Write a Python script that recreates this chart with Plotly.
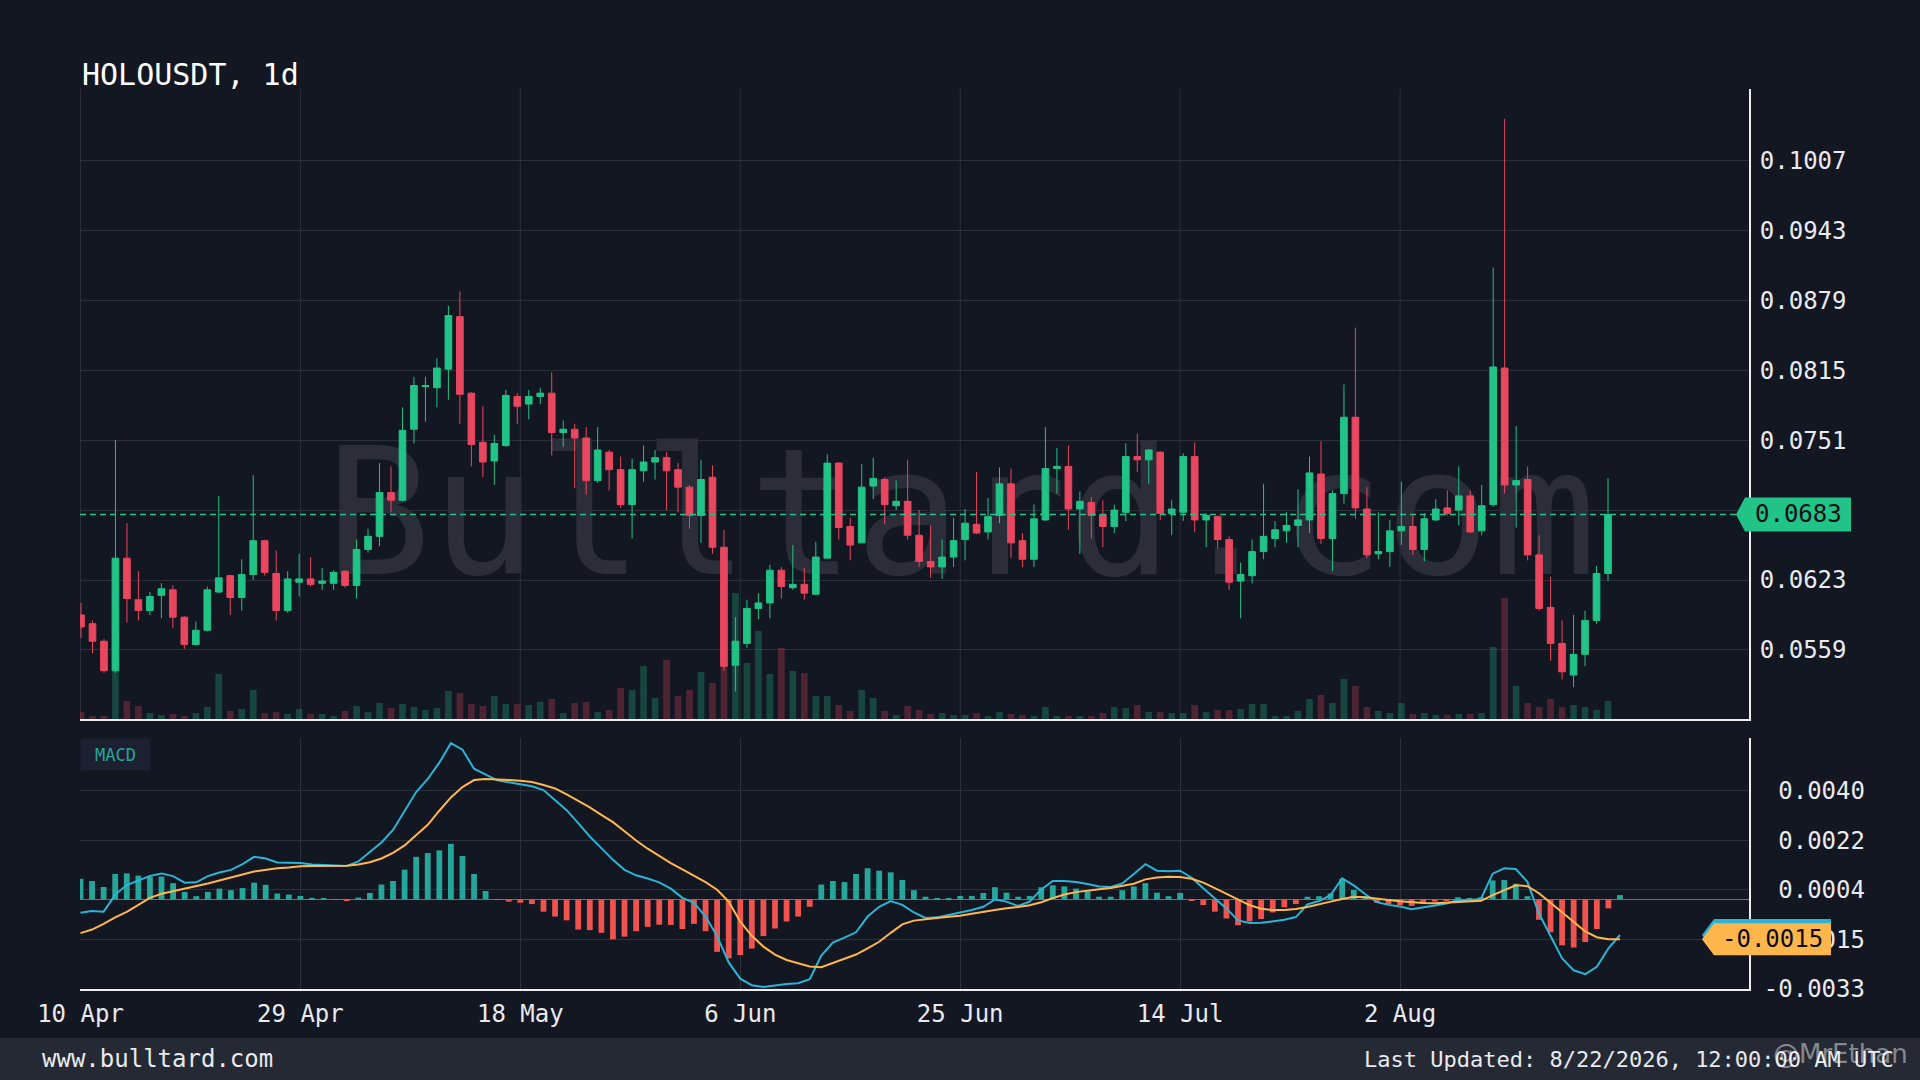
import pandas as pd
import plotly.graph_objects as go

# HOLOUSDT daily candles, 10 Apr -> 21 Aug 2026
dates = pd.date_range("2026-04-10", periods=134, freq="D")

opens = [
    0.0591, 0.0583, 0.0567, 0.0540, 0.0643, 0.0605, 0.0595, 0.0609, 0.0614, 0.0589,
    0.0564, 0.0577, 0.0612, 0.0627, 0.0607, 0.0628, 0.0659, 0.0629, 0.0595, 0.0621,
    0.0624, 0.0620, 0.0620, 0.0631, 0.0618, 0.0651, 0.0663, 0.0703, 0.0696, 0.0761,
    0.0800, 0.0799, 0.0816, 0.0864, 0.0794, 0.0749, 0.0732, 0.0746, 0.0791, 0.0784,
    0.0791, 0.0794, 0.0758, 0.0761, 0.0753, 0.0714, 0.0740, 0.0724, 0.0692, 0.0723,
    0.0731, 0.0735, 0.0724, 0.0708, 0.0682, 0.0717, 0.0653, 0.0545, 0.0565, 0.0597,
    0.0602, 0.0632, 0.0616, 0.0619, 0.0610, 0.0643, 0.0730, 0.0672, 0.0657, 0.0709,
    0.0715, 0.0691, 0.0695, 0.0664, 0.0640, 0.0635, 0.0644, 0.0660, 0.0674, 0.0667,
    0.0682, 0.0711, 0.0659, 0.0642, 0.0678, 0.0725, 0.0727, 0.0688, 0.0694, 0.0683,
    0.0672, 0.0685, 0.0736, 0.0733, 0.0740, 0.0684, 0.0685, 0.0736, 0.0678, 0.0681,
    0.0660, 0.0622, 0.0627, 0.0649, 0.0661, 0.0668, 0.0673, 0.0678, 0.0720, 0.0661,
    0.0702, 0.0772, 0.0688, 0.0647, 0.0649, 0.0668, 0.0672, 0.0651, 0.0678, 0.0689,
    0.0687, 0.0700, 0.0668, 0.0692, 0.0817, 0.0710, 0.0715, 0.0646, 0.0598, 0.0565,
    0.0536, 0.0555, 0.0586, 0.0629,
]
highs = [
    0.0602, 0.0586, 0.0569, 0.0751, 0.0675, 0.0631, 0.0612, 0.0620, 0.0618, 0.0590,
    0.0585, 0.0617, 0.0700, 0.0628, 0.0642, 0.0719, 0.0660, 0.0650, 0.0631, 0.0647,
    0.0644, 0.0634, 0.0632, 0.0632, 0.0660, 0.0670, 0.0730, 0.0727, 0.0781, 0.0809,
    0.0809, 0.0826, 0.0874, 0.0887, 0.0795, 0.0782, 0.0756, 0.0797, 0.0794, 0.0797,
    0.0799, 0.0813, 0.0769, 0.0766, 0.0763, 0.0763, 0.0742, 0.0736, 0.0734, 0.0746,
    0.0742, 0.0740, 0.0730, 0.0710, 0.0733, 0.0728, 0.0669, 0.0589, 0.0605, 0.0611,
    0.0637, 0.0635, 0.0655, 0.0634, 0.0658, 0.0738, 0.0731, 0.0680, 0.0729, 0.0735,
    0.0717, 0.0714, 0.0733, 0.0687, 0.0673, 0.0660, 0.0680, 0.0688, 0.0722, 0.0698,
    0.0726, 0.0725, 0.0666, 0.0692, 0.0763, 0.0744, 0.0746, 0.0704, 0.0699, 0.0696,
    0.0692, 0.0748, 0.0757, 0.0743, 0.0741, 0.0696, 0.0739, 0.0749, 0.0684, 0.0682,
    0.0663, 0.0639, 0.0660, 0.0711, 0.0677, 0.0685, 0.0706, 0.0736, 0.0750, 0.0705,
    0.0802, 0.0854, 0.0708, 0.0685, 0.0678, 0.0713, 0.0682, 0.0684, 0.0697, 0.0705,
    0.0727, 0.0705, 0.0710, 0.0909, 0.1045, 0.0764, 0.0727, 0.0664, 0.0626, 0.0586,
    0.0591, 0.0595, 0.0636, 0.0716,
]
lows = [
    0.0570, 0.0556, 0.0538, 0.0538, 0.0584, 0.0586, 0.0591, 0.0588, 0.0579, 0.0560,
    0.0563, 0.0576, 0.0611, 0.0591, 0.0595, 0.0623, 0.0627, 0.0586, 0.0593, 0.0608,
    0.0617, 0.0614, 0.0614, 0.0616, 0.0606, 0.0648, 0.0654, 0.0685, 0.0695, 0.0748,
    0.0768, 0.0781, 0.0788, 0.0766, 0.0727, 0.0717, 0.0710, 0.0745, 0.0766, 0.0770,
    0.0784, 0.0737, 0.0745, 0.0707, 0.0701, 0.0712, 0.0705, 0.0689, 0.0661, 0.0713,
    0.0715, 0.0687, 0.0685, 0.0670, 0.0657, 0.0647, 0.0540, 0.0521, 0.0561, 0.0587,
    0.0588, 0.0606, 0.0614, 0.0605, 0.0609, 0.0643, 0.0660, 0.0641, 0.0657, 0.0697,
    0.0674, 0.0687, 0.0660, 0.0635, 0.0625, 0.0624, 0.0635, 0.0641, 0.0665, 0.0660,
    0.0675, 0.0643, 0.0635, 0.0635, 0.0677, 0.0702, 0.0669, 0.0647, 0.0661, 0.0653,
    0.0666, 0.0677, 0.0722, 0.0711, 0.0678, 0.0664, 0.0677, 0.0667, 0.0653, 0.0652,
    0.0614, 0.0588, 0.0620, 0.0642, 0.0653, 0.0657, 0.0653, 0.0666, 0.0656, 0.0631,
    0.0693, 0.0679, 0.0643, 0.0642, 0.0635, 0.0655, 0.0646, 0.0640, 0.0677, 0.0682,
    0.0673, 0.0666, 0.0664, 0.0690, 0.0702, 0.0671, 0.0641, 0.0595, 0.0549, 0.0532,
    0.0525, 0.0544, 0.0583, 0.0622,
]
closes = [
    0.0580, 0.0567, 0.0540, 0.0643, 0.0606, 0.0595, 0.0608, 0.0615, 0.0589, 0.0564,
    0.0577, 0.0614, 0.0625, 0.0607, 0.0628, 0.0659, 0.0630, 0.0595, 0.0624, 0.0624,
    0.0619, 0.0622, 0.0630, 0.0618, 0.0651, 0.0663, 0.0703, 0.0696, 0.0760, 0.0801,
    0.0801, 0.0817, 0.0865, 0.0793, 0.0747, 0.0731, 0.0748, 0.0792, 0.0782, 0.0791,
    0.0794, 0.0758, 0.0761, 0.0753, 0.0714, 0.0742, 0.0724, 0.0692, 0.0724, 0.0731,
    0.0735, 0.0723, 0.0708, 0.0682, 0.0715, 0.0653, 0.0544, 0.0567, 0.0597, 0.0602,
    0.0632, 0.0617, 0.0619, 0.0611, 0.0644, 0.0730, 0.0671, 0.0655, 0.0708, 0.0716,
    0.0692, 0.0695, 0.0664, 0.0640, 0.0635, 0.0644, 0.0659, 0.0675, 0.0666, 0.0681,
    0.0711, 0.0657, 0.0642, 0.0679, 0.0725, 0.0727, 0.0688, 0.0695, 0.0682, 0.0672,
    0.0687, 0.0736, 0.0733, 0.0742, 0.0684, 0.0688, 0.0736, 0.0678, 0.0682, 0.0660,
    0.0621, 0.0628, 0.0649, 0.0663, 0.0669, 0.0673, 0.0678, 0.0721, 0.0661, 0.0702,
    0.0772, 0.0689, 0.0646, 0.0649, 0.0668, 0.0672, 0.0651, 0.0679, 0.0688, 0.0684,
    0.0700, 0.0667, 0.0691, 0.0818, 0.0710, 0.0714, 0.0646, 0.0597, 0.0565, 0.0539,
    0.0555, 0.0586, 0.0629, 0.0683,
]
# volume in 100k HOLO
volumes = [
    7, 3, 3, 84, 18, 13, 6, 4, 5, 3, 6, 12, 45, 8, 10, 29, 6, 7, 5, 10,
    5, 5, 3, 8, 13, 7, 16, 11, 15, 12, 9, 11, 28, 26, 15, 13, 23, 15, 15, 14,
    17, 20, 6, 16, 17, 7, 9, 31, 29, 53, 21, 59, 23, 29, 47, 36, 83, 126, 56, 88,
    45, 71, 48, 46, 23, 23, 14, 8, 29, 21, 8, 4, 13, 9, 5, 6, 4, 4, 6, 3,
    7, 5, 4, 3, 12, 3, 3, 3, 3, 6, 12, 11, 14, 7, 7, 6, 6, 14, 7, 9,
    9, 10, 15, 15, 3, 3, 8, 20, 24, 16, 40, 33, 12, 8, 6, 16, 5, 6, 4, 4,
    5, 5, 6, 72, 121, 33, 16, 12, 20, 12, 14, 12, 9, 18,
]

macd_line = [
    -0.00049, -0.00043, -0.00045, 0.00018, 0.00053, 0.00071, 0.00087, 0.00096, 0.00086, 0.00062,
    0.00063, 0.00086, 0.00099, 0.00109, 0.00130, 0.00157, 0.00151, 0.00136, 0.00135, 0.00134,
    0.00129, 0.00127, 0.00124, 0.00123, 0.00140, 0.00174, 0.00210, 0.00256, 0.00326, 0.00396,
    0.00444, 0.00504, 0.00576, 0.00552, 0.00482, 0.00459, 0.00439, 0.00432, 0.00425, 0.00417,
    0.00403, 0.00365, 0.00329, 0.00281, 0.00232, 0.00189, 0.00146, 0.00109, 0.00089, 0.00077,
    0.00063, 0.00040, 0.00006, -0.00012, -0.00063, -0.00135, -0.00232, -0.00292, -0.00316, -0.00323,
    -0.00317, -0.00312, -0.00309, -0.00294, -0.00207, -0.00159, -0.00141, -0.00121, -0.00063, -0.00027,
    -0.00006, -0.00020, -0.00048, -0.00068, -0.00066, -0.00058, -0.00048, -0.00039, -0.00027, 0.00000,
    -0.00008, -0.00024, -0.00008, 0.00037, 0.00068, 0.00068, 0.00064, 0.00057, 0.00048, 0.00046,
    0.00059, 0.00094, 0.00130, 0.00106, 0.00104, 0.00106, 0.00080, 0.00041, 0.00004, -0.00033,
    -0.00077, -0.00087, -0.00086, -0.00081, -0.00075, -0.00065, -0.00018, -0.00006, 0.00016, 0.00078,
    0.00052, 0.00019, -0.00010, -0.00020, -0.00026, -0.00036, -0.00030, -0.00022, -0.00015, -0.00002,
    -0.00003, 0.00003, 0.00095, 0.00115, 0.00112, 0.00065, -0.00052, -0.00133, -0.00217, -0.00261,
    -0.00275, -0.00248, -0.00180, -0.00131,
]
signal_line = [
    -0.00124, -0.00111, -0.00090, -0.00066, -0.00046, -0.00021, 0.00006, 0.00021, 0.00030, 0.00039,
    0.00048, 0.00059, 0.00070, 0.00082, 0.00092, 0.00103, 0.00110, 0.00115, 0.00118, 0.00122,
    0.00123, 0.00123, 0.00122, 0.00124, 0.00129, 0.00137, 0.00151, 0.00172, 0.00199, 0.00236,
    0.00275, 0.00327, 0.00376, 0.00414, 0.00440, 0.00444, 0.00443, 0.00440, 0.00437, 0.00433,
    0.00422, 0.00409, 0.00387, 0.00364, 0.00339, 0.00312, 0.00285, 0.00251, 0.00217, 0.00187,
    0.00159, 0.00134, 0.00111, 0.00087, 0.00064, 0.00036, -0.00008, -0.00082, -0.00134, -0.00174,
    -0.00203, -0.00223, -0.00236, -0.00247, -0.00250, -0.00234, -0.00218, -0.00203, -0.00180, -0.00156,
    -0.00123, -0.00092, -0.00078, -0.00072, -0.00068, -0.00064, -0.00060, -0.00053, -0.00047, -0.00039,
    -0.00032, -0.00028, -0.00021, -0.00010, 0.00005, 0.00018, 0.00027, 0.00033, 0.00038, 0.00042,
    0.00050, 0.00058, 0.00074, 0.00081, 0.00084, 0.00083, 0.00076, 0.00062, 0.00042, 0.00021,
    -0.00001, -0.00021, -0.00034, -0.00039, -0.00039, -0.00035, -0.00028, -0.00019, -0.00008, 0.00002,
    0.00010, 0.00008, 0.00004, -0.00002, -0.00007, -0.00011, -0.00013, -0.00014, -0.00012, -0.00011,
    -0.00007, -0.00005, 0.00016, 0.00034, 0.00052, 0.00049, 0.00023, -0.00012, -0.00048, -0.00084,
    -0.00118, -0.00139, -0.00147, -0.00147,
]
macd_hist = [
    0.00076, 0.00068, 0.00046, 0.00094, 0.00096, 0.00088, 0.00084, 0.00084, 0.00060, 0.00028,
    0.00012, 0.00028, 0.00040, 0.00034, 0.00042, 0.00062, 0.00054, 0.00022, 0.00018, 0.00013,
    0.00006, 0.00004, 0.00001, -0.00004, 0.00007, 0.00024, 0.00055, 0.00068, 0.00110, 0.00157,
    0.00171, 0.00181, 0.00205, 0.00160, 0.00094, 0.00031, -0.00002, -0.00008, -0.00012, -0.00017,
    -0.00045, -0.00063, -0.00077, -0.00111, -0.00113, -0.00123, -0.00147, -0.00137, -0.00117, -0.00101,
    -0.00093, -0.00094, -0.00109, -0.00090, -0.00117, -0.00193, -0.00217, -0.00205, -0.00181, -0.00135,
    -0.00107, -0.00081, -0.00063, -0.00027, 0.00055, 0.00068, 0.00064, 0.00094, 0.00115, 0.00106,
    0.00100, 0.00072, 0.00034, 0.00010, 0.00002, 0.00004, 0.00013, 0.00013, 0.00024, 0.00045,
    0.00025, 0.00010, 0.00013, 0.00045, 0.00052, 0.00048, 0.00040, 0.00030, 0.00010, 0.00010,
    0.00034, 0.00048, 0.00060, 0.00025, 0.00012, 0.00024, -0.00005, -0.00021, -0.00045, -0.00070,
    -0.00095, -0.00081, -0.00072, -0.00048, -0.00029, -0.00017, 0.00010, 0.00012, 0.00022, 0.00076,
    0.00035, 0.00012, -0.00012, -0.00017, -0.00021, -0.00024, -0.00014, -0.00008, -0.00003, 0.00008,
    0.00005, 0.00008, 0.00070, 0.00072, 0.00058, 0.00012, -0.00075, -0.00121, -0.00169, -0.00177,
    -0.00157, -0.00109, -0.00033, 0.00016,
]

tick_dates = ["2026-04-10", "2026-04-29", "2026-05-18", "2026-06-06",
              "2026-06-25", "2026-07-14", "2026-08-02"]
tick_labels = ["10 Apr", "29 Apr", "18 May", "6 Jun", "25 Jun", "14 Jul", "2 Aug"]
price_ticks = [0.0559, 0.0623, 0.0687, 0.0751, 0.0815, 0.0879, 0.0943, 0.1007]
macd_ticks = [-0.0033, -0.001475, 0.00035, 0.002175, 0.0040]

W, H = 1920, 1080
BG = "#131722"
GRID = "#2c303b"
AXIS = "#eceef2"
TEXT = "#e8eaef"
UP = "#21c386"
DOWN = "#e8475f"
MONO = "DejaVu Sans Mono"

# pane geometry (paper fractions)
X_DOM = [80 / W, 1749 / W]
PRICE_DOM = [1 - 719 / H, 1 - 89 / H]
MACD_DOM = [1 - 989 / H, 1 - 738 / H]
# the candle pane is packed a little tighter than the date scale below it
PRICE_X_RANGE = ["2026-04-09 21:54", "2026-09-02 06:44"]
DATE_X_RANGE = ["2026-04-09 23:00", "2026-09-01 03:30"]

last_close = closes[-1]

vol_colors = ["rgba(33,195,134,0.28)" if c >= o else "rgba(232,71,95,0.28)"
              for o, c in zip(opens, closes)]
hist_colors = ["#26a69a" if h >= 0 else "#ef5350" for h in macd_hist]

# the price tag covers the tick nearest the last close, as on the original
price_text = ["" if abs(v - last_close) < 0.001 else f"{v:.4f}" for v in price_ticks]

fig = go.Figure()

fig.add_trace(go.Bar(x=dates, y=volumes, marker=dict(color=vol_colors, line=dict(width=0)),
                     width=0.58 * 86400000, xaxis="x", yaxis="y3", hoverinfo="skip"))
fig.add_trace(go.Candlestick(
    x=dates, open=opens, high=highs, low=lows, close=closes,
    increasing=dict(line=dict(color=UP, width=1), fillcolor=UP),
    decreasing=dict(line=dict(color=DOWN, width=1), fillcolor=DOWN),
    whiskerwidth=0, xaxis="x", yaxis="y", hoverinfo="skip"))

fig.add_trace(go.Bar(x=dates, y=macd_hist, marker=dict(color=hist_colors, line=dict(width=0)),
                     width=0.5 * 86400000, xaxis="x2", yaxis="y2", hoverinfo="skip"))
fig.add_trace(go.Scatter(x=dates, y=macd_line, mode="lines", line=dict(color="#2ab4d6", width=2),
                         xaxis="x2", yaxis="y2", hoverinfo="skip"))
fig.add_trace(go.Scatter(x=dates, y=signal_line, mode="lines", line=dict(color="#ffb74d", width=2),
                         xaxis="x2", yaxis="y2", hoverinfo="skip"))

axis_common = dict(showgrid=True, gridcolor=GRID, gridwidth=1, zeroline=False,
                   showline=True, linecolor=AXIS, linewidth=2, ticks="", automargin=False,
                   tickfont=dict(family=MONO, size=24, color=TEXT))

fig.update_layout(
    width=W, height=H,
    margin=dict(l=0, r=0, t=0, b=0, pad=0),
    paper_bgcolor=BG, plot_bgcolor=BG,
    showlegend=False, hovermode=False,
    font=dict(family=MONO, color=TEXT),
    boxgap=0.42, boxgroupgap=0,
    xaxis=dict(domain=X_DOM, anchor="y", range=PRICE_X_RANGE, type="date",
               showticklabels=False, rangeslider=dict(visible=False),
               **{**axis_common, "showgrid": False}),
    yaxis=dict(domain=PRICE_DOM, anchor="x", side="right", range=[0.04958, 0.10724],
               tickvals=price_ticks, ticktext=price_text,
               ticklabelstandoff=4, **axis_common),
    yaxis3=dict(overlaying="y", anchor="x", range=[0, max(volumes) * 5], visible=False,
                automargin=False),
    xaxis2=dict(domain=X_DOM, anchor="y2", range=DATE_X_RANGE, type="date",
                tickvals=tick_dates, ticktext=tick_labels, ticklabelstandoff=2,
                **axis_common),
    yaxis2=dict(domain=MACD_DOM, anchor="x2", side="right", range=[-0.0033, 0.00595],
                tickvals=macd_ticks,
                ticktext=["-0.0033", "-0.0015", "\u00a00.0004", "\u00a00.0022", "\u00a00.0040"],
                ticklabelstandoff=8, **axis_common),
)
fig.update_layout(yaxis2=dict(zeroline=True, zerolinecolor="#6b6f7a", zerolinewidth=1))


def value_tag(y, yref, color, left, right, half_h, tip):
    path = (f"M {left - tip},0 L {left},{half_h} L {right},{half_h} "
            f"L {right},{-half_h} L {left},{-half_h} Z")
    return dict(type="path", xref="paper", yref=yref, xsizemode="pixel", ysizemode="pixel",
                xanchor=X_DOM[1], yanchor=y, path=path, fillcolor=color,
                line=dict(width=0), layer="above")


shapes = [
    # footer bar
    dict(type="rect", xref="paper", yref="paper", x0=0, x1=1, y0=0, y1=42 / H,
         fillcolor="#252934", line=dict(width=0), layer="below"),
    # watermark
    dict(type="rect", xref="paper", yref="paper", x0=861 / W, x1=1061 / W,
         y0=1 - 550 / H, y1=1 - 450 / H, fillcolor="rgba(0,0,0,0)", line=dict(width=0),
         layer="below",
         label=dict(text="Bulltard.com", textposition="middle center",
                    font=dict(family=MONO, size=176, color="rgba(255,255,255,0.10)"))),
]
# vertical grid of the candle pane follows the date scale
for d in tick_dates:
    shapes.append(dict(type="line", xref="x2", yref="paper", x0=d, x1=d,
                       y0=PRICE_DOM[0], y1=PRICE_DOM[1],
                       line=dict(color=GRID, width=1), layer="below"))
shapes += [
    # last price line
    dict(type="line", xref="x domain", yref="y", x0=0, x1=1, y0=last_close, y1=last_close,
         line=dict(color=UP, width=1.5, dash="6px,4px"), layer="above"),
    value_tag(last_close, "y", UP, -4, 102, 17, 9),
    value_tag(macd_line[-1], "y2", "#2ab4d6", -35, 82, 16, 12),
    value_tag(signal_line[-1], "y2", "#ffb74d", -35, 82, 16, 12),
]
fig.update_layout(shapes=shapes)

annotations = [
    dict(text="HOLOUSDT, 1d", xref="paper", yref="paper", x=80 / W, y=1 - 74 / H,
         xanchor="left", yanchor="middle", showarrow=False,
         font=dict(family=MONO, size=30, color="#ffffff")),
    dict(text="MACD", xref="paper", yref="paper", x=80 / W, y=1 - 738 / H,
         xanchor="left", yanchor="top", showarrow=False, width=67, height=29,
         bgcolor="#1c2030", font=dict(family=MONO, size=17, color="#26a69a")),
    dict(text=f"{last_close:.4f}", xref="paper", yref="y", x=(1749 + 49) / W, y=last_close,
         xanchor="center", yanchor="middle", showarrow=False,
         font=dict(family=MONO, size=24, color="#0b0e14")),
    dict(text=f"{signal_line[-1]:.4f}", xref="paper", yref="y2", x=(1749 + 23) / W,
         y=signal_line[-1], xanchor="center", yanchor="middle", showarrow=False,
         font=dict(family=MONO, size=24, color="#0b0e14")),
    dict(text="www.bulltard.com", xref="paper", yref="paper", x=40 / W, y=1 - 1059 / H,
         xanchor="left", yanchor="middle", showarrow=False,
         font=dict(family=MONO, size=24, color=TEXT)),
    dict(text="Last Updated: 8/22/2026, 12:00:00 AM UTC", xref="paper", yref="paper",
         x=1896 / W, y=1 - 1059 / H, xanchor="right", yanchor="middle", showarrow=False,
         font=dict(family=MONO, size=22, color=TEXT)),
    dict(text="@MrEthan", xref="paper", yref="paper", x=1910 / W, y=1 - 1054 / H,
         xanchor="right", yanchor="middle", showarrow=False,
         font=dict(family="DejaVu Sans", size=26, color="rgba(255,255,255,0.45)")),
]
fig.update_layout(annotations=annotations)

fig.write_html("out.html", config={"displayModeBar": False},
               post_script="document.body.style.margin='0';document.body.style.background='#131722';")
